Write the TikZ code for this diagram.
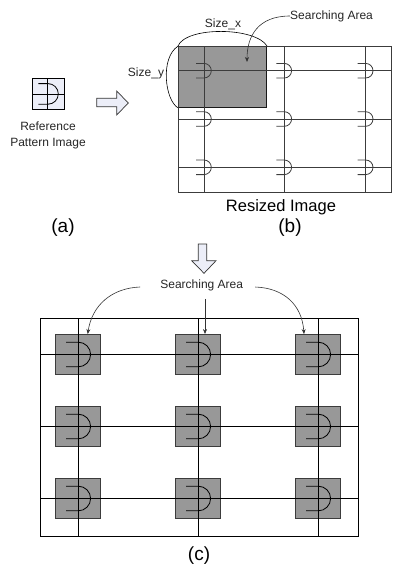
\documentclass[tikz,border=0pt]{standalone}
\usepackage{fontspec}
\setmainfont{Liberation Sans}
\usepackage{tikz}
\usetikzlibrary{arrows.meta,positioning}

\definecolor{lav}{RGB}{236,238,248}
\definecolor{areagray}{RGB}{152,152,152}
\definecolor{darkline}{RGB}{60,60,60}

\begin{document}
\begin{tikzpicture}[x=1pt,y=1pt]
        \tikzstyle{every node}+=[inner sep=0pt]
        \tikzstyle{lbl}=[font=\fontsize{12}{14}\selectfont, text=black!85]
        \tikzstyle{captxt}=[font=\fontsize{19}{22}\selectfont]
        \tikzstyle{srch}=[draw=darkline, fill=areagray, line width=0.9pt, minimum width=45pt, minimum height=40pt]
        \tikzstyle{arr}=[-{Stealth[length=5pt,width=4pt]}, black!80, line width=0.6pt]
        \useasboundingbox (0,0) rectangle (402,-573);
        % (a) reference pattern
        \draw [black, fill=lav, line width=0.8pt] (32.3,-78.3) rectangle (64.3,-109);
        \draw [black, line width=0.8pt] (47.7,-78.3) -- (47.7,-109);
        \draw [black, line width=0.8pt] (32.3,-94) -- (64.3,-94);
        \draw [black, line width=0.8pt] (38.3,-83.6) -- (48,-83.6) arc (90:-90:10.3) -- (38.3,-104.2);
        \node [lbl, align=center] (refname) at (48,-135.5) {Reference\\[2pt]Pattern Image};
        \node [captxt] (capa) at (63,-228) {(a)};
        % block arrow right
        \draw [black!80, fill=lav, line width=0.7pt] (96.7,-98.3) -- (116.7,-98.3) -- (116.7,-91) -- (128.3,-103) -- (116.7,-115) -- (116.7,-106.7) -- (96.7,-106.7) -- cycle;
        % (b) resized image
        \node [draw=black!90, fill=areagray, line width=0.9pt, minimum width=88.4pt, minimum height=60.6pt] (area) at (222.5,-77) {};
        \draw [darkline, line width=0.9pt] (178.3,-46.7) rectangle (391.7,-192.7);
        \draw [darkline, line width=0.9pt] (204,-46.7) -- (204,-192.7);
        \draw [darkline, line width=0.9pt] (284.3,-46.7) -- (284.3,-192.7);
        \draw [darkline, line width=0.9pt] (365.7,-46.7) -- (365.7,-192.7);
        \draw [darkline, line width=0.9pt] (178.3,-70.7) -- (391.7,-70.7);
        \draw [darkline, line width=0.9pt] (178.3,-119) -- (391.7,-119);
        \draw [darkline, line width=0.9pt] (178.3,-167.3) -- (391.7,-167.3);
        \draw [darkline, line width=0.8pt] (196,-63.4) -- (204,-63.4) arc (90:-90:7.3) -- (196,-78);
        \draw [darkline, line width=0.8pt] (276.3,-63.4) -- (284.3,-63.4) arc (90:-90:7.3) -- (276.3,-78);
        \draw [darkline, line width=0.8pt] (357.7,-63.4) -- (365.7,-63.4) arc (90:-90:7.3) -- (357.7,-78);
        \draw [darkline, line width=0.8pt] (196,-111.7) -- (204,-111.7) arc (90:-90:7.3) -- (196,-126.3);
        \draw [darkline, line width=0.8pt] (276.3,-111.7) -- (284.3,-111.7) arc (90:-90:7.3) -- (276.3,-126.3);
        \draw [darkline, line width=0.8pt] (357.7,-111.7) -- (365.7,-111.7) arc (90:-90:7.3) -- (357.7,-126.3);
        \draw [darkline, line width=0.8pt] (196,-160) -- (204,-160) arc (90:-90:7.3) -- (196,-174.6);
        \draw [darkline, line width=0.8pt] (276.3,-160) -- (284.3,-160) arc (90:-90:7.3) -- (276.3,-174.6);
        \draw [darkline, line width=0.8pt] (357.7,-160) -- (365.7,-160) arc (90:-90:7.3) -- (357.7,-174.6);
        \draw [black, line width=0.6pt] (area.north west) .. controls (186,-26) and (256,-27) .. (area.north east);
        \draw [black, line width=0.6pt] (area.north west) .. controls (160,-58) and (165,-100) .. (area.south west);
        \node [lbl] (sizex) at (223,-24) {Size\_x};
        \node [lbl] (sizey) at (146,-73) {Size\_y};
        \node [lbl, anchor=west] (areab) at (290,-16) {Searching Area};
        \coordinate (hitb) at (247,-62);
        \draw [arr] (areab.west) .. controls (258,-16) and (247,-36) .. (hitb);
        \node [font=\fontsize{16.5}{19}\selectfont] (resname) at (281,-207) {Resized Image};
        \node [captxt] (capb) at (290,-228) {(b)};
        % block arrow down
        \draw [black!80, fill=lav, line width=0.7pt] (198.3,-244) -- (206.7,-244) -- (206.7,-260.7) -- (216,-260.7) -- (204,-273.3) -- (191.7,-260.7) -- (198.3,-260.7) -- cycle;
        % (c) searching areas
        \node [srch] (s11) at (78.3,-354.5) {};
        \node [srch] (s12) at (198.3,-354.5) {};
        \node [srch] (s13) at (318.3,-354.5) {};
        \node [srch] (s21) at (78.3,-426.5) {};
        \node [srch] (s22) at (198.3,-426.5) {};
        \node [srch] (s23) at (318.3,-426.5) {};
        \node [srch] (s31) at (78.3,-498.5) {};
        \node [srch] (s32) at (198.3,-498.5) {};
        \node [srch] (s33) at (318.3,-498.5) {};
        \draw [black, line width=0.8pt] (40,-318.7) rectangle (358.7,-536.7);
        \draw [black, line width=0.8pt] (78.3,-318.7) -- (78.3,-536.7);
        \draw [black, line width=0.8pt] (198.3,-318.7) -- (198.3,-536.7);
        \draw [black, line width=0.8pt] (318.3,-318.7) -- (318.3,-536.7);
        \draw [black, line width=0.8pt] (40,-354.5) -- (358.7,-354.5);
        \draw [black, line width=0.8pt] (40,-426.5) -- (358.7,-426.5);
        \draw [black, line width=0.8pt] (40,-498.5) -- (358.7,-498.5);
        \draw [black, line width=0.8pt] (66,-342.2) -- (78.3,-342.2) arc (90:-90:12.3) -- (66,-366.8);
        \draw [black, line width=0.8pt] (186,-342.2) -- (198.3,-342.2) arc (90:-90:12.3) -- (186,-366.8);
        \draw [black, line width=0.8pt] (306,-342.2) -- (318.3,-342.2) arc (90:-90:12.3) -- (306,-366.8);
        \draw [black, line width=0.8pt] (66,-414.2) -- (78.3,-414.2) arc (90:-90:12.3) -- (66,-438.8);
        \draw [black, line width=0.8pt] (186,-414.2) -- (198.3,-414.2) arc (90:-90:12.3) -- (186,-438.8);
        \draw [black, line width=0.8pt] (306,-414.2) -- (318.3,-414.2) arc (90:-90:12.3) -- (306,-438.8);
        \draw [black, line width=0.8pt] (66,-486.2) -- (78.3,-486.2) arc (90:-90:12.3) -- (66,-510.8);
        \draw [black, line width=0.8pt] (186,-486.2) -- (198.3,-486.2) arc (90:-90:12.3) -- (186,-510.8);
        \draw [black, line width=0.8pt] (306,-486.2) -- (318.3,-486.2) arc (90:-90:12.3) -- (306,-510.8);
        \node [lbl] (areac) at (201.7,-285) {Searching Area};
        \draw [arr] ([xshift=-20pt,yshift=-2pt]areac.west) .. controls (112,-288) and (92,-305) .. ([xshift=9.4pt]s11.north);
        \draw [arr] ([xshift=3.3pt,yshift=-8pt]areac.south) -- ([xshift=6.7pt]s12.north);
        \draw [arr] ([xshift=12pt,yshift=-2pt]areac.east) .. controls (284,-288) and (302,-305) .. ([xshift=-14.3pt]s13.north);
        \node [captxt] (capc) at (199,-556) {(c)};
\end{tikzpicture}
\end{document}
